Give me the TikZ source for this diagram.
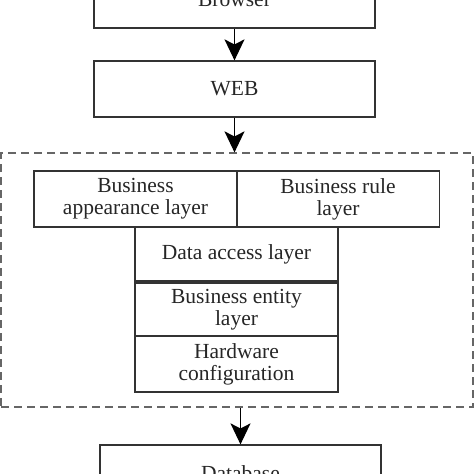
\documentclass[tikz,border=0pt]{standalone}
\usepackage{fontspec}
\setmainfont{Liberation Serif}
\usepackage{tikz}
\usetikzlibrary{arrows.meta}
\definecolor{linegray}{HTML}{333333}
\definecolor{dashgray}{HTML}{666666}
\begin{document}
\begin{tikzpicture}[x=1pt,y=-1pt]
        \useasboundingbox (0,0) rectangle (474,474);
        \tikzstyle{every node} = [rectangle, draw=linegray, line width=1.2pt, align=center,
            inner sep=0pt, text=black!85, font=\fontsize{21.5}{22}\selectfont]
        \tikzstyle{wide} = [minimum width=281pt, minimum height=56pt]
        \tikzstyle{half} = [minimum width=203pt, minimum height=56pt]
        \tikzstyle{flow} = [draw=black, line width=1.2pt, -{Stealth[length=21pt,width=20pt,inset=5pt]}]
        \node[draw=dashgray, dashed, dash pattern=on 8pt off 5pt, minimum width=472pt, minimum height=254pt] (core) at (237,280) {};
        \node[wide] (browser) at (234.5,0) {Browser};
        \node[wide] (web) at (234.5,89) {WEB};
        \node[half] (appear) at (135.5,199) {Business\\appearance layer};
        \node[half] (rule) at (338,199) {Business rule\\layer};
        \node[half, minimum height=54pt] (access) at (236.5,254) {Data access layer};
        \node[half, minimum height=53pt] (entity) at (236.5,309.5) {Business entity\\layer};
        \node[half] (hardware) at (236.5,364) {Hardware\\configuration};
        \node[wide] (db) at (240.5,473) {Database};
        \fill[linegray] (access.south west) rectangle (entity.north east);

        \draw[flow] (browser) -- (web);
        \draw[flow] (web.south) -- (web.south |- core.north);
        \draw[flow] (db.north |- core.south) -- (db.north);
      \end{tikzpicture}
\end{document}
